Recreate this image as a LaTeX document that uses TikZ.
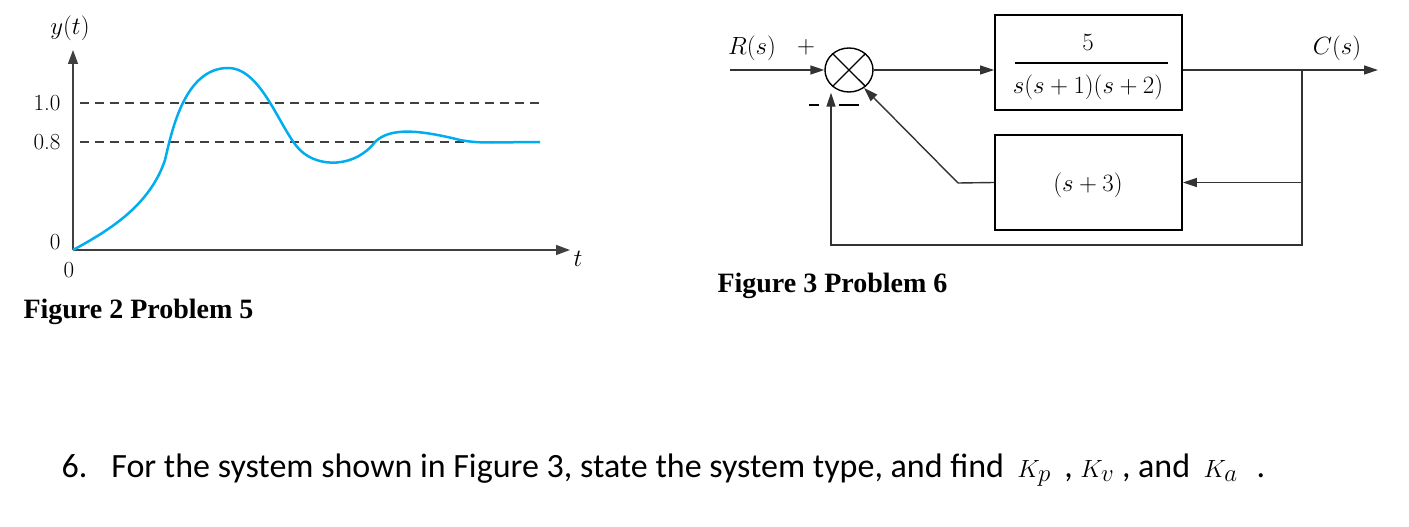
\documentclass[tikz,border=0pt]{standalone}
\usepackage{fontspec}
\newfontfamily\capfont{Liberation Serif}
\newfontfamily\qfont{Carlito}
\usetikzlibrary{arrows.meta,shapes.geometric}
\definecolor{curve}{RGB}{0,174,239}
\begin{document}
\begin{tikzpicture}[x=1pt,y=-1pt,
  ln/.style={line width=1.4pt,black!80},
  ar/.style={ln,-{Triangle[length=14pt,width=9pt]}},
  blk/.style={draw,line width=1.8pt,minimum width=187pt,minimum height=95pt,inner sep=0pt},
  lab/.style={font=\fontsize{23}{26}\selectfont},
  capt/.style={font=\capfont\bfseries\fontsize{28}{32}\selectfont,anchor=west}]
\useasboundingbox (0,0) rectangle (1409,527);
% ---- plot ----
\coordinate (O) at (73,250);
\coordinate (yT) at (73,50);
\coordinate (xT) at (570,250);
\draw[ln,black!75,-{Triangle[length=14pt,width=10pt]}] (O) -- (yT);
\draw[ln,black!75,-{Triangle[length=14pt,width=10pt]}] (O) -- (xT);
\draw[black!75,line width=1.3pt,dash pattern=on 9pt off 6pt] (80,103) -- (540,103);
\draw[black!75,line width=1.3pt,dash pattern=on 9pt off 6pt] (80,142) -- (540,142);
\node[lab,anchor=east] (l10) at (64,103) {1.0};
\node[lab,anchor=east] (l08) at (64,142) {0.8};
\node[lab,anchor=east] (l0) at (64,242) {0};
\node[lab] (lx0) at (69,270) {0};
\node[lab] (ly) at (70,28) {$y(t)$};
\node[lab] (lt) at (578,259) {$t$};
\draw[curve,line width=2.5pt] (O) .. controls (110,230) and (150,205) .. (165,160)
  .. controls (172,130) and (185,68) .. (228,68)
  .. controls (262,68) and (280,130) .. (300,150)
  .. controls (318,168) and (355,168) .. (375,142)
  .. controls (390,127) and (420,130) .. (460,140)
  .. controls (480,144) and (500,142) .. (540,142);
\node[capt] (c2) at (20,312) {Figure 2 Problem 5};
% ---- block diagram ----
\node[draw,ellipse,line width=1.4pt,minimum width=48pt,minimum height=44pt,inner sep=0pt] (sum) at (849,70) {};
\draw[line width=1.4pt] (sum.45) -- (sum.225) (sum.135) -- (sum.315);
\node[blk] (g) at (1088.5,62.5) {};
\node[lab] at (1088,42) {$5$};
\draw[line width=1.2pt] (1015,63) -- (1168,63);
\node[lab] at (1088,87) {$s(s+1)(s+2)$};
\node[blk] (h) at (1088.5,182.5) {};
\node[lab] at (1088,185) {$(s+3)$};
\coordinate (rin) at (730,70);
\coordinate (cout) at (1378,70);
\coordinate (br) at (1302,70);
\coordinate (bb) at (1302,245);
\coordinate (bl) at (831,245);
\coordinate (hk) at (958,183);
\draw[ar] (rin) -- (sum.west);
\draw[ar] (sum.east) -- (g.west |- sum.east);
\draw[ar] (g.east |- cout) -- (cout);
\draw[ar] (br) |- (h.east);
\draw[ar] (h.west) -- (hk) -- (sum.-50);
\draw[ar] (br) -- (bb) -- (bl) -- (bl |- sum.south);
\node[lab] (R) at (752,48) {$R(s)$};
\node[lab] (C) at (1337,48) {$C(s)$};
\node[lab] (plus) at (806,47) {$+$};
\draw[line width=1.4pt] (809,105) -- (819,105) (839,105) -- (859,105);
\node[capt] (c3) at (714,286) {Figure 3 Problem 6};
% ---- question ----
\node[anchor=west,font=\qfont\fontsize{34}{38}\selectfont] (q) at (58,470)
 {6.\hspace{24pt}For the system shown in Figure 3, state the system type, and find \,{\rmfamily$K_{p}$}\, , {\rmfamily$K_{v}$} , and \,{\rmfamily$K_{a}$}\,\, .};
\end{tikzpicture}
\end{document}
